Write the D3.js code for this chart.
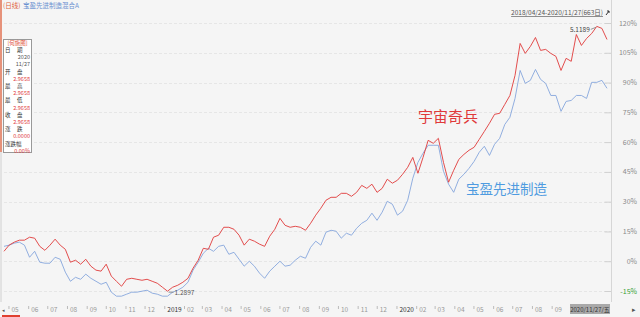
<!DOCTYPE html>
<html>
<head>
<meta charset="utf-8">
<script src="https://cdn.jsdelivr.net/npm/d3@7"></script>
<style>
  html, body { margin: 0; padding: 0; background: #f5f5f5; }
  svg { display: block; font-family: "Noto Sans CJK SC", "Noto Sans", sans-serif; }
</style>
</head>
<body>
<div id="chart"></div>
<script>
// cumulative return, %, sampled evenly from 2018/04/24 to 2020/11/27
const redValues = [
  5.0, 8.1, 9.6, 10.6, 10.6, 12.1, 11.6, 7.5, 5.5, 8.1,
  11.1, 8.1, 6.0, -0.5, 0.5, -1.5, 1.0, -2.5, -4.5, -5.0,
  -1.5, -7.5, -10.1, -12.6, -9.1, -8.6, -9.1, -9.6, -9.1, -10.1,
  -11.1, -13.1, -15.1, -13.1, -12.1, -10.6, -8.6, -3.5, 0.5, 6.5,
  6.0, 12.1, 13.1, 17.1, 17.1, 16.1, 13.1, 8.1, 11.1, 10.1,
  8.6, 7.5, 12.6, 16.1, 21.6, 18.1, 17.1, 17.6, 17.1, 15.6,
  19.1, 23.2, 26.7, 30.7, 32.2, 32.2, 34.2, 34.2, 32.7, 34.7,
  38.2, 36.7, 38.8, 34.7, 36.7, 41.3, 39.3, 40.8, 43.8, 47.3,
  52.3, 44.3, 52.3, 60.9, 59.4, 61.9, 49.8, 39.8, 45.8, 51.3,
  53.8, 55.9, 57.4, 61.4, 65.4, 69.5, 74.0, 74.5, 79.0, 83.5,
  93.6, 109.7, 104.7, 108.2, 112.7, 106.2, 106.7, 104.7, 103.2, 96.1,
  102.2, 100.7, 114.2, 108.7, 112.2, 114.7, 118.3, 117.3, 111.7
];
const blueValues = [
  7.5, 8.1, 9.1, 9.6, 8.1, 2.0, 5.0, -0.5, -1.0, -1.0,
  2.0, 1.0, -5.5, -10.1, -8.1, -9.1, -6.5, -8.6, -10.1, -11.6,
  -10.6, -15.6, -17.6, -17.6, -16.6, -15.6, -15.6, -15.1, -14.6, -16.1,
  -16.6, -17.6, -17.6, -15.6, -14.6, -13.1, -10.6, -4.5, -0.5, 4.0,
  6.5, 5.0, 7.5, 8.1, 3.5, 4.5, 1.0, -2.5, 0.0, -2.5,
  -6.0, -8.6, -5.0, -2.5, 0.0, -2.5, -2.0, 0.5, 2.5, 1.5,
  7.0, 10.1, 8.1, 14.6, 15.6, 15.1, 11.6, 14.1, 13.1, 16.6,
  19.1, 20.6, 24.2, 20.6, 24.7, 30.2, 28.7, 23.2, 25.2, 30.7,
  41.8, 49.8, 54.4, 58.4, 58.4, 58.4, 45.3, 38.8, 34.7, 41.3,
  43.8, 46.8, 50.3, 54.9, 57.9, 53.3, 58.9, 61.9, 68.9, 72.5,
  82.0, 96.1, 89.6, 91.1, 96.6, 91.6, 89.6, 83.5, 83.5, 75.5,
  80.5, 81.0, 83.5, 83.5, 82.0, 90.1, 90.1, 91.1, 87.1
];
const yTicks = [-15, 0, 15, 30, 45, 60, 75, 90, 105, 120];
const seriesNames = ['宇宙奇兵', '宝盈先进制造'];
const titleTag = '(日线)';
const titleName = '宝盈先进制造混合A';
const rangeLabel = '2018/04/24-2020/11/27(663日)';
const cursorLabel = '2020/11/27/五';
const maxLabel = '5.1189';
const minLabel = '1.2897';
const infoHeader = '[何施图]';
const infoLabels = [['日', '期'], ['开', '盘'], ['最', '高'], ['最', '低'], ['收', '盘'], ['涨', '跌'], ['涨跌幅', '']];
const infoValues = [['2020', '11/27'], ['2.9658'], ['2.9658'], ['2.9658'], ['2.9658'], ['0.0000'], ['0.00%']];

const startDate = new Date(2018, 3, 24);
const endDate = new Date(2020, 10, 27);
const dates = redValues.map((d, i) => new Date(+startDate + i * (endDate - startDate) / (redValues.length - 1)));

const width = 640;
const height = 317;
const plot = { left: 4, right: 607, top: 23, bottom: 291, edge: 611.5 };

const svg = d3.select('#chart').append('svg')
  .attr('width', width).attr('height', height);

svg.append('rect').attr('width', width).attr('height', height).attr('fill', '#f5f5f5');

const xScale = d3.scaleTime().domain([startDate, endDate]).range([plot.left, plot.right]);
const yScale = d3.scaleLinear().domain([-15, 120]).range([plot.bottom, plot.top]);

// gridlines
svg.append('g')
  .selectAll('line')
  .data(yTicks)
  .join('line')
  .attr('x1', plot.left).attr('x2', plot.edge)
  .attr('y1', d => Math.round(yScale(d)) + 0.5).attr('y2', d => Math.round(yScale(d)) + 0.5)
  .attr('stroke', '#e6e6e6')
  .attr('stroke-dasharray', '3,2');

// right axis
const yAxis = svg.append('g')
  .attr('transform', `translate(${plot.edge},0)`)
  .call(d3.axisLeft(yScale).tickValues(yTicks).tickSize(7).tickFormat(''));
yAxis.select('.domain').remove();
yAxis.selectAll('line').attr('stroke', '#d0d0d0');

svg.append('g')
  .selectAll('text')
  .data(yTicks)
  .join('text')
  .attr('x', 637)
  .attr('y', d => yScale(d) + 2.5)
  .attr('text-anchor', 'end')
  .attr('font-size', 7)
  .attr('fill', d => d < 0 ? '#33a033' : '#8a8a8a')
  .text(d => d + '%');

svg.append('line')
  .attr('x1', plot.edge).attr('x2', plot.edge)
  .attr('y1', 0).attr('y2', 302)
  .attr('stroke', '#d6d6d6');

// left border
svg.append('line').attr('x1', 1).attr('x2', 1).attr('y1', 0).attr('y2', 152)
  .attr('stroke', '#e07050').attr('stroke-width', 1.5);
svg.append('line').attr('x1', 1).attr('x2', 1).attr('y1', 152).attr('y2', 302)
  .attr('stroke', '#d0d0d0');

// lines
const line = (values) => d3.line()
  .x((d, i) => xScale(dates[i]))
  .y(d => yScale(d))(values);

svg.append('path').attr('d', line(blueValues))
  .attr('fill', 'none').attr('stroke', '#86a6dc').attr('stroke-width', 0.9);
svg.append('path').attr('d', line(redValues))
  .attr('fill', 'none').attr('stroke', '#e03a3a').attr('stroke-width', 0.9);

// series labels
svg.append('text').attr('x', 418).attr('y', 122)
  .attr('font-size', 15).attr('fill', '#e0393a').text(seriesNames[0]);
svg.append('text').attr('x', 466).attr('y', 194)
  .attr('font-size', 13.5).attr('fill', '#4f9be0').text(seriesNames[1]);

// max / min markers on the red series
const iMax = d3.maxIndex(redValues);
const iMin = d3.minIndex(redValues);
const px = xScale(dates[iMax]), py = yScale(redValues[iMax]);
svg.append('line').attr('x1', px - 1).attr('y1', py + 1).attr('x2', px - 6).attr('y2', py + 3)
  .attr('stroke', '#555').attr('stroke-width', 0.6);
svg.append('text').attr('x', px - 7).attr('y', py + 5.5)
  .attr('text-anchor', 'end').attr('font-size', 6.5).attr('fill', '#444').text(maxLabel);
const mx = xScale(dates[iMin]), my = yScale(redValues[iMin]);
svg.append('line').attr('x1', mx + 1).attr('y1', my + 1).attr('x2', mx + 6).attr('y2', my + 1)
  .attr('stroke', '#555').attr('stroke-width', 0.6);
svg.append('text').attr('x', mx + 7).attr('y', my + 3.5)
  .attr('font-size', 6.5).attr('fill', '#555').text(minLabel);

// title
svg.append('text').attr('x', 3).attr('y', 8).attr('font-size', 6.5)
  .attr('fill', '#e0603a').text(titleTag);
svg.append('text').attr('x', 23).attr('y', 8).attr('font-size', 6.5)
  .attr('fill', '#6a90d0').text(titleName);

// range label top right
svg.append('text').attr('x', 603).attr('y', 15).attr('text-anchor', 'end')
  .attr('font-size', 6.5).attr('fill', '#555')
  .attr('text-decoration', 'underline').text(rangeLabel);
svg.append('path').attr('d', 'M606,15 L609,11 M607,11 L609,11 L609,13')
  .attr('stroke', '#333').attr('stroke-width', 1).attr('fill', 'none');

// info box
const box = svg.append('g');
box.append('rect').attr('x', 3.5).attr('y', 39.5).attr('width', 28).attr('height', 113)
  .attr('fill', '#fff').attr('stroke', '#999');
box.append('text').attr('x', 17.5).attr('y', 45).attr('text-anchor', 'middle')
  .attr('font-size', 5.5).attr('fill', '#e0503a').text(infoHeader);
let yy = 52;
infoLabels.forEach((lab, i) => {
  box.append('text').attr('x', 5).attr('y', yy).attr('font-size', 5.5).attr('fill', '#333').text(lab[0]);
  if (lab[1]) box.append('text').attr('x', 17).attr('y', yy).attr('font-size', 5.5).attr('fill', '#333').text(lab[1]);
  yy += 7.2;
  infoValues[i].forEach(v => {
    box.append('text').attr('x', 30).attr('y', yy).attr('text-anchor', 'end')
      .attr('font-size', 5.5).attr('fill', i === 0 ? '#555' : '#e0393a').text(v);
    yy += 7.2;
  });
});

// bottom axis
const months = d3.timeMonth.range(new Date(2018, 4, 1), new Date(2020, 9, 1));
const xAxis = svg.append('g');
xAxis.selectAll('line')
  .data(months)
  .join('line')
  .attr('x1', d => xScale(d) + 0.5).attr('x2', d => xScale(d) + 0.5)
  .attr('y1', 306).attr('y2', 309)
  .attr('stroke', '#bbb');
xAxis.selectAll('text')
  .data(months)
  .join('text')
  .attr('x', d => xScale(d) + 3)
  .attr('y', 311.5)
  .attr('font-size', 6.5)
  .attr('fill', d => d.getMonth() === 0 ? '#333' : '#999')
  .text(d => d.getMonth() === 0 ? d.getFullYear() : String(d.getMonth() + 1).padStart(2, '0'));

svg.append('text').attr('x', 2).attr('y', 311.5).attr('font-size', 5).attr('fill', '#555').text('◂');
svg.append('text').attr('x', 632).attr('y', 311.5).attr('font-size', 6.5).attr('fill', '#555').text('▸');
svg.append('rect').attr('x', 570).attr('y', 304).attr('width', 40).attr('height', 10).attr('fill', '#a9a9a9');
svg.append('text').attr('x', 590).attr('y', 311.5).attr('text-anchor', 'middle')
  .attr('font-size', 6).attr('fill', '#333').text(cursorLabel);
svg.append('rect').attr('x', 2).attr('y', 315).attr('width', 18).attr('height', 2).attr('fill', '#e04030');
</script>
</body>
</html>
